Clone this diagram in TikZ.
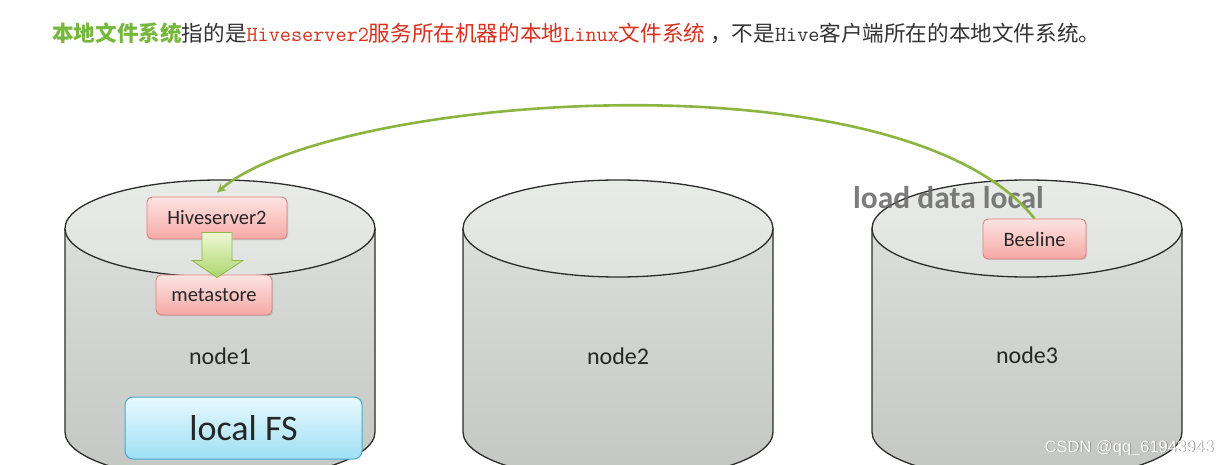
\documentclass[tikz,border=0pt]{standalone}
\usepackage{fontspec}
\newfontfamily\cjk{Noto Sans CJK SC}
\newfontfamily\calfont{Carlito}
\newfontfamily\wmfont{Liberation Sans}
\usetikzlibrary{shadows,calc,arrows.meta,shadings}
\definecolor{cylA}{HTML}{DCDEDB}
\definecolor{cylB}{HTML}{C4C6C3}
\definecolor{topA}{HTML}{E9EBE8}
\definecolor{topB}{HTML}{E0E2DF}
\definecolor{cylline}{HTML}{2C2C2C}
\definecolor{pinkA}{HTML}{FDE4E2}
\definecolor{pinkB}{HTML}{F5A9A5}
\definecolor{pinkline}{HTML}{D6847E}
\definecolor{grA}{HTML}{EFF8D6}
\definecolor{grB}{HTML}{ACD56C}
\definecolor{grline}{HTML}{8DB84A}
\definecolor{blA}{HTML}{E8F9FE}
\definecolor{blB}{HTML}{9EDFF4}
\definecolor{blline}{HTML}{4AA8CD}
\definecolor{ttgreen}{HTML}{76B83C}
\definecolor{ttred}{HTML}{D8301C}
\definecolor{ttgray}{HTML}{333333}
\definecolor{curvegreen}{HTML}{8CB440}
\definecolor{loadgray}{HTML}{666666}
\tikzset{
  cylbody/.style={top color=cylA, bottom color=cylB},
  cyltop/.style={top color=topA, bottom color=topB},
  cyledge/.style={draw=cylline, line width=1.3pt},
  pinkbox/.style={draw=pinkline, line width=0.9pt, rounded corners=5pt,
    top color=pinkA, bottom color=pinkB, inner sep=0pt,
    drop shadow={opacity=0.25, shadow xshift=1.2pt, shadow yshift=-1.2pt},
    font=\calfont\fontsize{20.5}{24}\selectfont, text=black!85},
  fsbox/.style={draw=blline, line width=1pt, rounded corners=8pt,
    top color=blA, bottom color=blB, inner sep=0pt,
    font=\calfont\fontsize{36}{42}\selectfont, text=black!85},
  nodelabel/.style={font=\calfont\fontsize{24}{28}\selectfont, text=black!85, anchor=base, inner sep=0pt},
  blockarrow/.style={draw=grline, line width=0.8pt, top color=grA, bottom color=grB},
  greencurve/.style={draw=curvegreen, line width=2.6pt, -{Stealth[length=9pt,width=9pt]}},
  wmtext/.style={anchor=base east, inner sep=0pt, font=\wmfont\fontsize{16.5}{20}\selectfont},
}
\begin{document}
\begin{tikzpicture}[x=1pt,y=1pt]
\useasboundingbox (0,0) rectangle (1231,464);
\clip (0,0) rectangle (1231,464);
\fill[white] (0,0) rectangle (1231,464);
% cylinders
\foreach \cx in {220,618,1027}{
  \shade[cylbody] (\cx-155,235.5) -- (\cx-155,32) arc[start angle=180,end angle=360,x radius=155,y radius=48.5] -- (\cx+155,235.5) -- cycle;
  \draw[cyledge] (\cx-155,235.5) -- (\cx-155,32) arc[start angle=180,end angle=360,x radius=155,y radius=48.5] -- (\cx+155,235.5);
  \shade[cyltop] (\cx,235.5) ellipse[x radius=155,y radius=48.5];
  \draw[cyledge] (\cx,235.5) ellipse[x radius=155,y radius=48.5];
}
% title
\node[anchor=base west, inner sep=0pt, font=\fontsize{21.6}{26}\selectfont] (title) at (52,422)
  {{\cjk\bfseries\color{ttgreen}本地文件系统}{\cjk\color{ttgray}指的是}{\ttfamily\color{ttred}Hiveserver2}{\cjk\color{ttred}服务所在机器的本地}{\ttfamily\color{ttred}Linux}{\cjk\color{ttred}文件系统}{\cjk\color{ttgray}\ ，不是}{\ttfamily\color{ttgray}Hive}{\cjk\color{ttgray}客户端所在的本地文件系统。}};
% labels
\node[nodelabel] (n1) at (220,100) {node1};
\node[nodelabel] (n2) at (618,100) {node2};
\node[nodelabel] (n3) at (1027,101) {node3};
% boxes
\node[pinkbox, minimum width=140pt, minimum height=42pt] (hs2) at (217,246) {Hiveserver2};
\node[pinkbox, minimum width=116pt, minimum height=40pt] (ms) at (214,169) {metastore};
\node[pinkbox, minimum width=103pt, minimum height=40pt] (bl) at (1034.5,225) {Beeline};
\node[fsbox, minimum width=237pt, minimum height=62pt] (fs) at (243.5,36) {local FS};
% block arrow hs2 -> ms
\draw[blockarrow] ($(hs2.south)+(-15,7)$) -- ($(hs2.south)+(15,7)$) -- ($(hs2.south)+(15,-21)$)
  -- ($(hs2.south)+(26,-21)$) -- ($(ms.north)+(3,-3)$) -- ($(hs2.south)+(-25,-21)$)
  -- ($(hs2.south)+(-15,-21)$) -- cycle;
% load data local
\node[anchor=base, inner sep=0pt, font=\calfont\bfseries\fontsize{31.5}{36}\selectfont, text=loadgray, text opacity=0.85] (ldl) at (948.5,255) {load data local};
% curve
\draw[greencurve] (bl.north) .. controls (900,414) and (330,369) .. ([yshift=4pt]hs2.north);
% watermark
\node[wmtext, text=black!45] (wms) at (1214.8,11.2) {CSDN @qq\_61943943};
\node[wmtext, text=white] (wm) at (1214,12) {CSDN @qq\_61943943};
\end{tikzpicture}
\end{document}
